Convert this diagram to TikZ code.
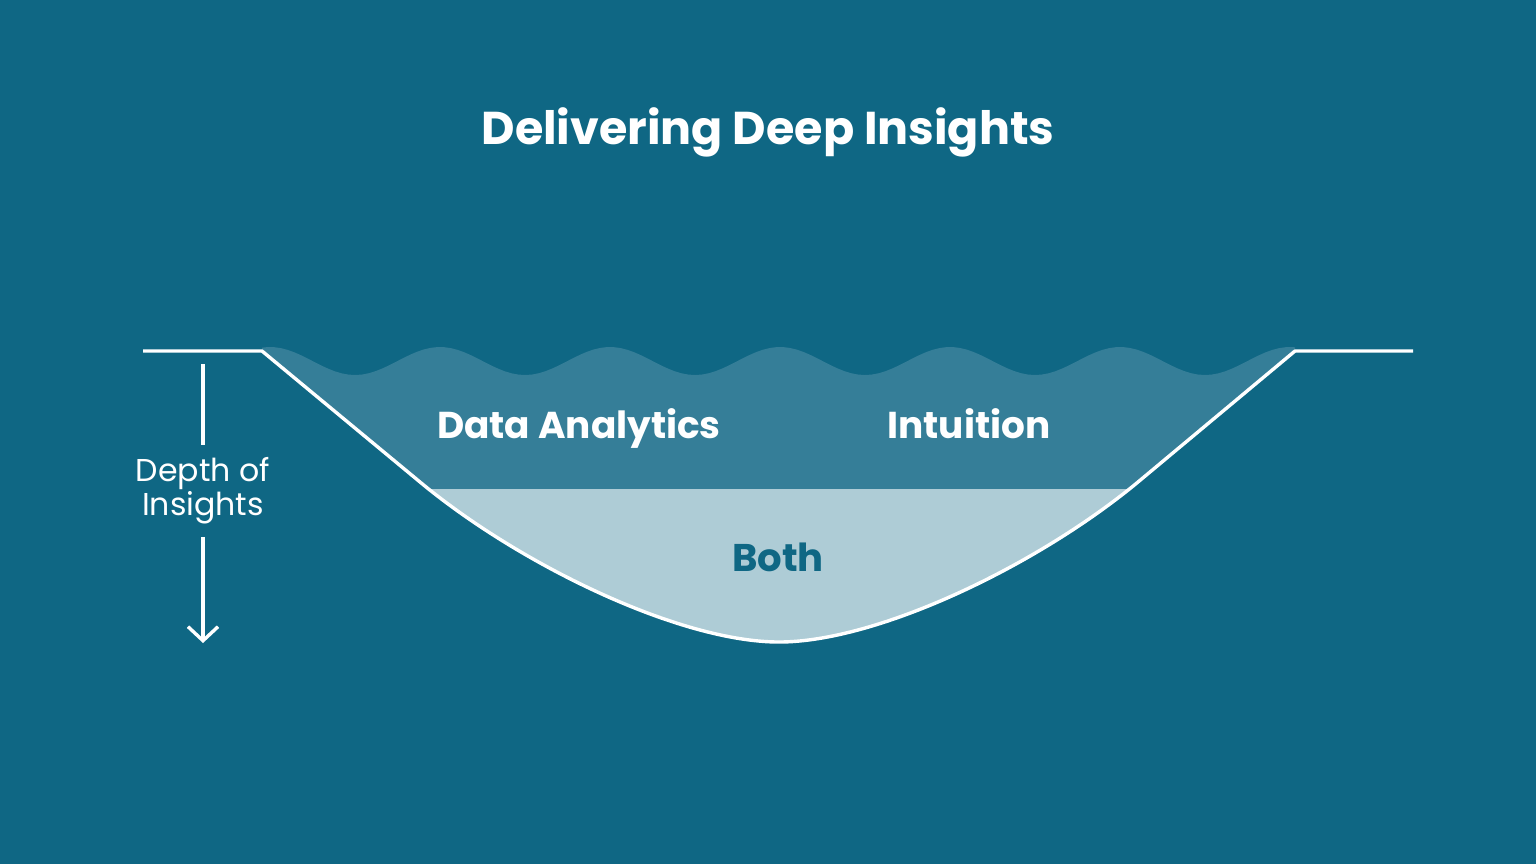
\documentclass[tikz,border=0pt]{standalone}
\usepackage{fontspec}
\setmainfont{Poppins}
\usepackage{tikz}
\usetikzlibrary{arrows.meta,positioning}
\definecolor{sea}{HTML}{0F6784}
\definecolor{shallow}{HTML}{357E98}
\definecolor{deep}{HTML}{AECCD6}

\begin{document}
\begin{tikzpicture}[x=0.5pt,y=-0.5pt,>={Straight Barb[length=7pt,width=15pt]},line join=round]
            \tikzstyle{ground}=[draw=white,line width=1.7pt]
            \tikzstyle{heading}=[text=white,anchor=base,font=\bfseries\fontsize{23}{27}\selectfont]
            \tikzstyle{water}=[text=white,anchor=base,font=\bfseries\fontsize{18.7}{22}\selectfont]
            \tikzstyle{axis}=[text=white,align=center,inner sep=6pt,font=\fontsize{15.8}{15.85}\selectfont]
            \fill[sea] (0,0) rectangle (1536,864);
            % basin and water
            \begin{scope}
            \clip (262,351) -- (420,482) .. controls (520,565) and (680,642) .. (779,642)
                .. controls (878,642) and (1038,565) .. (1138,482) -- (1295,351)
                -- (1295,330) -- (262,330) -- cycle;
            \fill[shallow] plot[domain=240:1320,samples=160] (\x,{361-14*cos(2.11765*(\x-270))})
                -- (1320,700) -- (240,700) -- cycle;
            \fill[deep] (240,489) rectangle (1320,700);
            \end{scope}
            \draw[ground] (143,351) -- (262,351) -- (420,482)
                .. controls (520,565) and (680,642) .. (779,642)
                .. controls (878,642) and (1038,565) .. (1138,482) -- (1295,351) -- (1413,351);
            \node[heading](title) at (768,144){Delivering Deep Insights};
            \node[water](analytics) at (579,438){Data Analytics};
            \node[water](intuition) at (969,438){Intuition};
            \node[water,text=sea,font=\bfseries\fontsize{19.3}{22}\selectfont](both) at (778,571){Both};
            % depth axis
            \node[axis](depth) at (203,491){Depth of\\Insights};
            \coordinate (depthtop) at (203,364);
            \coordinate (depthend) at (203,643);
            \draw[ground] (depthtop) -- (depth);
            \draw[ground,->] (depth) -- (depthend);
        \end{tikzpicture}
\end{document}
